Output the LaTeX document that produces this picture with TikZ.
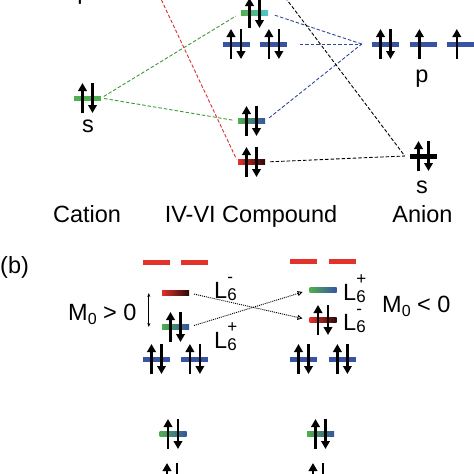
\documentclass[tikz,border=0pt]{standalone}
\usepackage{fontspec}
\setmainfont{Liberation Sans}
\usepackage{xcolor}
\usetikzlibrary{arrows.meta,positioning}
\definecolor{rot}{HTML}{E3312C}
\definecolor{blau}{HTML}{3753A2}
\definecolor{gruen}{HTML}{4FAF4E}
\definecolor{tuerkis}{HTML}{55C3D2}
\definecolor{dunkel}{HTML}{2A0808}
\definecolor{gruenlinie}{HTML}{3E9A3E}
\definecolor{rotlinie}{HTML}{D93030}
\definecolor{blaulinie}{HTML}{2E4A9A}
\tikzstyle{lvl} = [rectangle, inner sep=0pt, minimum width=27pt, minimum height=5pt]
\tikzstyle{lvlblau} = [lvl, fill=blau]
\tikzstyle{lvlrot} = [lvl, fill=rot]
\tikzstyle{lvlgruen} = [lvl, fill=gruen]
\tikzstyle{lvlschwarz} = [lvl, fill=black]
\tikzstyle{lvlgcb} = [lvl, left color=gruen, middle color=tuerkis, right color=blau]
\tikzstyle{lvlgc} = [lvl, left color=gruen, right color=tuerkis]
\tikzstyle{lvlrs} = [lvl, left color=rot, right color=dunkel]
\tikzstyle{spin} = [line width=2.6pt, -{Triangle[length=8pt,width=8.5pt]}]
\tikzstyle{verb} = [line width=0.9pt, dash pattern=on 3.5pt off 2pt]
\tikzstyle{punkt} = [line width=0.9pt, dash pattern=on 1pt off 1pt, -{Triangle[open,length=5pt,width=5pt]}, shorten <=5pt, shorten >=7pt]
\tikzstyle{txt} = [inner sep=0pt]
\newcommand{\paar}[1]{%
	\draw[spin] ([xshift=-5pt,yshift=-15pt]#1.center) -- ([xshift=-5pt,yshift=15pt]#1.center);
	\draw[spin] ([xshift=5pt,yshift=15pt]#1.center) -- ([xshift=5pt,yshift=-15pt]#1.center);}
\newcommand{\einzel}[1]{%
	\draw[spin] ([xshift=-4pt,yshift=-15pt]#1.center) -- ([xshift=-4pt,yshift=15pt]#1.center);}
\newcommand{\Lsym}[1]{L\rlap{\raisebox{15.5pt}{\fontsize{17}{17}\selectfont #1}}\raisebox{-2pt}{\fontsize{17}{17}\selectfont 6}}
\begin{document}
\begin{tikzpicture}[x=1pt, y=-1pt, font=\fontsize{23.5}{28}\selectfont]
		\useasboundingbox (0,0) rectangle (474,474);
		\clip (0,0) rectangle (474,474);
		% (a) Niveaus
		\node[txt, anchor=base] (cptxt) at (84,-1) {p};						% Kation p (abgeschnitten)
		\node[lvlgruen] (cs) at (87.5,98) {};								% Kation s
		\node[txt, anchor=base] (cstxt) at (88,132) {s};
		\node[lvlgc] (kt) at (254.5,13) {};									% Verbindung oben
		\node[lvlblau] (kb1) at (236,44) {};
		\node[lvlblau, right=10.5pt of kb1] (kb2) {};
		\node[lvlgcb] (km) at (251.5,121) {};								% Verbindung mitte
		\node[lvlrs] (kr) at (251.5,162) {};								% Verbindung unten
		\node[lvlblau] (ap1) at (385.5,44) {};								% Anion p
		\node[lvlblau, right=10.5pt of ap1] (ap2) {};
		\node[lvlblau, right=10pt of ap2] (ap3) {};
		\node[txt, anchor=base] (aptxt) at (422,82) {p};
		\node[lvlschwarz] (as) at (423.5,156) {};							% Anion s
		\node[txt, anchor=base] (astxt) at (422,193) {s};
		\node[txt, anchor=base] (kation) at (87,222) {Cation};
		\node[txt, anchor=base] (verbindung) at (251,222) {IV-VI Compound};
		\node[txt, anchor=base] (anion) at (422.5,222) {Anion};
		\coordinate (rotoben) at (152,-20);
		\coordinate (schwarzoben) at (272,-20);
		\coordinate (pjunk) at ([xshift=-10pt]ap1.west);
		\coordinate (sjunk) at ([xshift=-5pt]as.west);
		
		% (a) Verbindungslinien
		\draw[verb, gruenlinie, shorten <=3pt, shorten >=6pt] (cs.east) -- (kt.west);
		\draw[verb, gruenlinie, shorten <=3pt, shorten >=5pt] (cs.east) -- (km.west);
		\draw[verb, rotlinie, shorten >=3pt] (rotoben) -- (kr.west);
		\draw[verb, blaulinie, shorten <=7pt] (kt.east) -- (pjunk);
		\draw[verb, blaulinie, shorten <=12pt] (kb2.east) -- (pjunk);
		\draw[verb, blaulinie, shorten <=5pt] (km.east) -- (pjunk);
		\draw[verb, black] (schwarzoben) -- (sjunk);
		\draw[verb, black, shorten <=5pt] (kr.east) -- (sjunk);
		
		% (a) Elektronen
		\paar{cs} \paar{kt} \paar{kb1} \paar{kb2} \paar{km} \paar{kr}
		\paar{ap1} \einzel{ap2} \einzel{ap3} \paar{as}
		
		% (b) Niveaus
		\node[txt, anchor=base west] (btxt) at (0,273) {(b)};
		\node[lvlrot] (lr1) at (156.5,262) {};								% M0 > 0
		\node[lvlrot, right=11pt of lr1] (lr2) {};
		\node[lvlrs] (lm) at (175.5,293) {};
		\node[lvlgcb] (lp) at (175.5,327) {};
		\node[lvlblau] (lb1) at (156.5,359) {};
		\node[lvlblau, right=11pt of lb1] (lb2) {};
		\node[lvlgcb] (ls) at (173,434) {};
		\node[lvlrs] (lu) at (172,478) {};
		\node[lvlrot] (rr1) at (303.5,261) {};								% M0 < 0
		\node[lvlrot, right=11.5pt of rr1] (rr2) {};
		\node[lvlgcb] (rp) at (323,290) {};
		\node[lvlrs] (rm) at (323,320) {};
		\node[lvlblau] (rb1) at (303.5,359) {};
		\node[lvlblau, right=11.5pt of rb1] (rb2) {};
		\node[lvlgcb] (rs) at (320.5,434) {};
		\node[lvlrs] (ru) at (318,478) {};
		\node[txt, anchor=base west] (lmtxt) at (214,298) {\Lsym{-}};
		\node[txt, anchor=base west] (lptxt) at (214,348) {\Lsym{+}};
		\node[txt, anchor=base west] (rptxt) at (343,300) {\Lsym{+}};
		\node[txt, anchor=base west] (rmtxt) at (343,330) {\Lsym{-}};
		\node[txt, anchor=base west] (mgross) at (68,320) {M\raisebox{-4pt}{\fontsize{16}{16}\selectfont 0} > 0};
		\node[txt, anchor=base west] (mklein) at (382,312) {M\raisebox{-4pt}{\fontsize{16}{16}\selectfont 0} < 0};
		
		% (b) Pfeile
		\draw[punkt] (lm.east) -- (rm.west);
		\draw[punkt] (lp.east) -- (rp.west);
		\draw[line width=0.8pt, {Stealth[length=4pt]}-{Stealth[length=4pt]}] ([xshift=-13pt]lm.west) -- ([xshift=-13pt]lp.west);
		
		% (b) Elektronen
		\paar{lp} \paar{lb1} \paar{lb2} \paar{ls} \paar{lu}
		\paar{rm} \paar{rb1} \paar{rb2} \paar{rs} \paar{ru}
\end{tikzpicture}
\end{document}
